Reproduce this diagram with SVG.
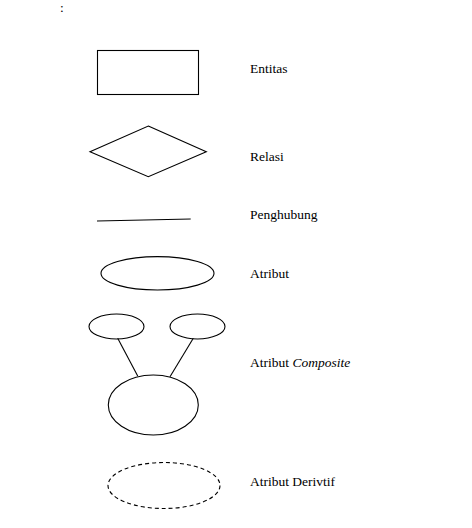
<svg xmlns="http://www.w3.org/2000/svg" width="472" height="528" viewBox="0 0 472 528">
<style>
.s{fill:none;stroke:#000;stroke-width:1.1}
.d{fill:none;stroke:#000;stroke-width:1.1;stroke-dasharray:4,3}
.t{font-family:'Liberation Serif','Times New Roman',Times,'DejaVu Serif',serif;font-size:13.5px;fill:#000}
</style>
<rect width="472" height="528" fill="#fff"/>
<text class="t" x="60" y="12" font-size="9">:</text>
<g id="entitas">
<rect class="s" x="97.5" y="50.5" width="101" height="44"/>
<text class="t" x="250" y="72.5">Entitas</text>
</g>
<g id="relasi">
<polygon class="s" points="148.3,126 206.3,151.7 148.3,176.7 90,151.7"/>
<text class="t" x="250" y="161">Relasi</text>
</g>
<g id="penghubung">
<text class="t" x="250" y="218.5">Penghubung</text>
</g>
<g id="atribut">
<ellipse class="s" cx="157.5" cy="273.3" rx="56.5" ry="16.7"/>
<text class="t" x="250" y="277.7">Atribut</text>
</g>
<g id="composite-left">
<ellipse class="s" cx="116.5" cy="326.5" rx="27.5" ry="12.5"/>
</g>
<g id="composite-right">
<ellipse class="s" cx="197.5" cy="326.5" rx="27.5" ry="12.5"/>
</g>
<g id="composite">
<ellipse class="s" cx="153.3" cy="405" rx="45" ry="30"/>
<text class="t" x="250" y="366.7">Atribut <tspan font-style="italic">Composite</tspan></text>
</g>
<g id="derivtif">
<ellipse class="d" cx="164" cy="485.5" rx="56" ry="23"/>
<text class="t" x="250" y="486">Atribut Derivtif</text>
</g>
<g id="connectors">
<line class="s" x1="97" y1="221" x2="190.7" y2="219"/>
<line class="s" x1="117.7" y1="338.3" x2="137.7" y2="376"/>
<line class="s" x1="193.3" y1="338.3" x2="170" y2="376.7"/>
</g>
</svg>
